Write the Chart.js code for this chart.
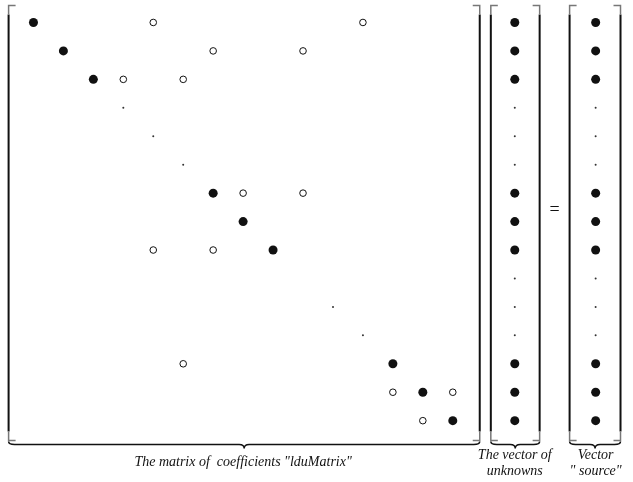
<!DOCTYPE html><html><head><meta charset="utf-8">
<script src="https://cdn.jsdelivr.net/npm/chart.js@4"></script>
<style>html,body{margin:0;padding:0;background:#fff}#w{width:633px;height:482px}</style></head>
<body><div id="w"><canvas id="c"></canvas></div><script>
// matrix entries [row, col]
const diagFilled = [[0,0],[1,1],[2,2],[6,6],[7,7],[8,8],[12,12],[13,13],[14,14]];
const offDiagOpen = [[0,4],[0,11],[1,6],[1,9],[2,3],[2,5],[6,7],[6,9],[8,4],[8,6],[12,5],[13,12],[13,14],[14,13]];
const diagSmall = [[3,3],[4,4],[5,5],[10,10],[11,11]];
const vecBigRows = [0,1,2,6,7,8,12,13,14];
const vecSmallRows = [3,4,5,9,10,11];
const vecCol = 16.07, srcCol = 18.77;
const pts = a => a.map(([r,c]) => ({x:c, y:r}));
const vpts = (rows,c) => rows.map(r => ({x:c, y:r}));
const bigAll = pts(diagFilled).concat(vpts(vecBigRows,vecCol), vpts(vecBigRows,srcCol));
const smallAll = pts(diagSmall).concat(vpts(vecSmallRows,vecCol), vpts(vecSmallRows,srcCol));

const deco = {id:'deco', afterDraw(ch){
  const g = ch.ctx, X = v => ch.scales.x.getPixelForValue(v), Y = v => ch.scales.y.getPixelForValue(v);
  const top = Y(-0.6), bot = Y(14.7);
  function bracket(x0,x1){
    g.save(); g.lineWidth=2; g.strokeStyle='#111';
    g.beginPath(); g.moveTo(x0,top+9); g.lineTo(x0,bot-9); g.moveTo(x1,top+9); g.lineTo(x1,bot-9); g.stroke();
    g.strokeStyle='#777'; g.lineWidth=1.5; g.beginPath();
    g.moveTo(x0+7,top); g.lineTo(x0,top); g.lineTo(x0,top+9);
    g.moveTo(x1-7,top); g.lineTo(x1,top); g.lineTo(x1,top+9);
    g.moveTo(x0+7,bot); g.lineTo(x0,bot); g.lineTo(x0,bot-9);
    g.moveTo(x1-7,bot); g.lineTo(x1,bot); g.lineTo(x1,bot-9);
    g.stroke();
    const by = bot+4, m=(x0+x1)/2;
    g.strokeStyle='#111'; g.lineWidth=1.5; g.beginPath();
    g.moveTo(x0,by-3); g.quadraticCurveTo(x0,by,x0+6,by); g.lineTo(m-5,by);
    g.quadraticCurveTo(m,by,m,by+4); g.quadraticCurveTo(m,by,m+5,by);
    g.lineTo(x1-6,by); g.quadraticCurveTo(x1,by,x1,by-3); g.stroke();
    g.restore();
  }
  bracket(X(-0.83),X(14.9)); bracket(X(15.27),X(16.9)); bracket(X(17.9),X(19.6));
  g.save(); g.fillStyle='#111'; g.font='italic 14px "Liberation Serif"'; g.textAlign='center'; g.textBaseline='middle';
  g.fillText('The matrix of  coefficients "lduMatrix"', X(7), 462);
  g.fillText('The vector of', X(vecCol), 455); g.fillText('unknowns', X(vecCol), 471);
  g.fillText('Vector', X(srcCol), 455); g.fillText('" source"', X(srcCol), 471);
  g.font='18px "Liberation Serif"'; g.fillText('=', X(17.4), Y(6.6));
  g.restore();
}};

new Chart(document.getElementById('c'), {
  type:'scatter',
  data:{datasets:[
    {data:bigAll, pointRadius:4.5, pointBackgroundColor:'#111', pointBorderColor:'#111', pointBorderWidth:0},
    {data:pts(offDiagOpen), pointRadius:3.3, pointBackgroundColor:'#fff', pointBorderColor:'#111', pointBorderWidth:1},
    {data:smallAll, pointRadius:1, pointBackgroundColor:'#333', pointBorderColor:'#333', pointBorderWidth:0}
  ]},
  options:{responsive:true, maintainAspectRatio:false, animation:false,
    layout:{padding:0},
    plugins:{legend:{display:false}, tooltip:{enabled:false}},
    scales:{
      x:{type:'linear', min:-0.95, max:19.85, display:false},
      y:{type:'linear', min:-0.614, max:15.98, reverse:true, display:false}
    }},
  plugins:[deco]
});
</script></body></html>
